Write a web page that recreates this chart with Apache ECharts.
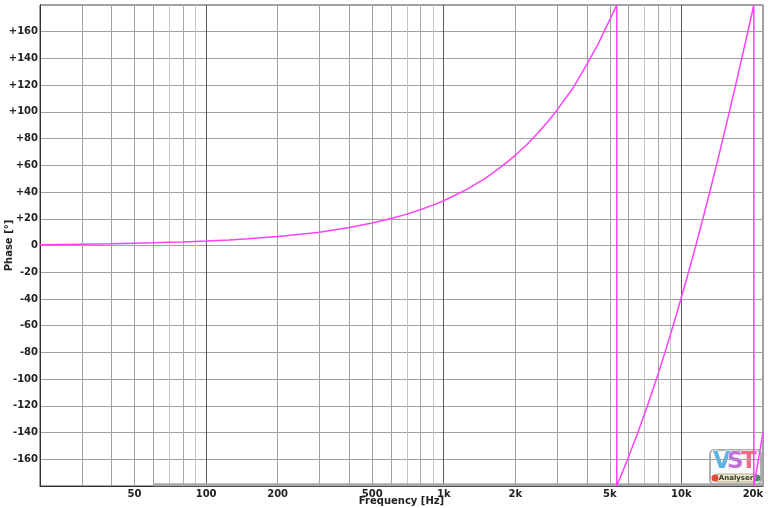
<!DOCTYPE html>
<html>
<head>
<meta charset="utf-8">
<script src="https://cdn.jsdelivr.net/npm/echarts@6/dist/echarts.min.js"></script>
<style>
  html, body { margin: 0; padding: 0; background: #fff; }
  #phase-chart { width: 768px; height: 508px; }
</style>
</head>
<body>
<div id="phase-chart"></div>
<script>
// phase response (Hz, degrees); a repeated frequency = wrap at +/-180
var freqHz = [20, 25, 30, 40, 50, 60, 70, 80, 100, 125, 150, 200, 250, 300, 400, 500, 600, 700, 800, 900,
    1000, 1250, 1500, 1750, 2000, 2250, 2500, 2750, 3000, 3250, 3500, 3750, 4000, 4250, 4500, 4750, 5000, 5200, 5345,
    5345, 5942, 6559, 7196, 7853, 8530, 9227, 9954, 10711, 11498, 12315, 13162, 14039, 14956, 15913, 16910, 17947, 19034, 20171,
    20171, 21100, 22050];
var phaseDeg = [0.5, 0.8, 1, 1.3, 1.7, 2, 2.4, 2.7, 3.3, 4.2, 5, 6.7, 8.4, 10, 13.4, 16.8, 20.2, 23.5, 27, 30.2,
    33.5, 42, 50.5, 59, 67.5, 76, 84.5, 93, 101.5, 110, 118, 127, 135.5, 144, 152, 161, 169, 175.5, 180,
    -180, -160, -140, -120, -100, -80, -60, -40, -20, 0, 20, 40, 60, 80, 100, 120, 140, 160, 180,
    -180, -160, -140];

// grey strip along the floor of the plot
var floorHz = [60, 22050];
var floorDeg = [-179, -179];

// frequency grid lines and labelled frequencies
var gridHz = [30, 40, 50, 60, 70, 80, 90, 100, 200, 300, 400, 500, 600, 700, 800, 900,
    1000, 2000, 3000, 4000, 5000, 6000, 7000, 8000, 9000, 10000, 20000];
var labelHz = [50, 100, 200, 500, 1000, 2000, 5000, 10000, 20000];

var pairs = function (xs, ys) {
    var res = [];
    for (var i = 0; i < xs.length; i++) {
        res.push([xs[i], ys[i]]);
    }
    return res;
};

var chart = echarts.init(document.getElementById('phase-chart'));

var labelFont = {
    fontFamily: 'DejaVu Sans',
    fontWeight: 'bold',
    fontSize: 10,
    color: '#222'
};

var option = {
    backgroundColor: '#fff',
    animation: false,
    grid: {
        left: 40,
        right: 5,
        top: 5,
        bottom: 22,
        containLabel: false,
        outerBoundsMode: 'none',
        show: true,
        borderColor: '#444',
        borderWidth: 1
    },
    xAxis: {
        type: 'log',
        min: 20,
        max: 22050,
        name: 'Frequency [Hz]',
        nameLocation: 'middle',
        nameGap: 10,
        nameMoveOverlap: false,
        nameTextStyle: labelFont,
        axisLine: { onZero: false, lineStyle: { color: '#333' } },
        axisTick: { show: false, customValues: gridHz },
        axisLabel: {
            customValues: labelHz,
            margin: 3,
            fontFamily: 'DejaVu Sans',
            fontWeight: 'bold',
            fontSize: 10,
            color: '#222',
            formatter: function (v) {
                return v >= 1000 ? (v / 1000) + 'k' : '' + v;
            }
        },
        splitLine: {
            show: true,
            lineStyle: {
                color: ['#a0a0a0', '#a0a0a0', '#a0a0a0', '#a0a0a0', '#c4c4c4',
                        '#a8a8a8', '#c4c4c4', '#5a5a5a', '#a0a0a0']
            }
        }
    },
    yAxis: {
        type: 'value',
        min: -180,
        max: 180,
        interval: 20,
        name: 'Phase [°]',
        nameLocation: 'middle',
        nameGap: 26,
        nameMoveOverlap: false,
        nameTextStyle: labelFont,
        axisLine: { show: true, lineStyle: { color: '#333' } },
        axisTick: { show: false },
        axisLabel: {
            margin: 2,
            fontFamily: 'DejaVu Sans',
            fontWeight: 'bold',
            fontSize: 10,
            color: '#222',
            formatter: function (v) {
                if (v === 180 || v === -180) return '';
                return v > 0 ? '+' + v : '' + v;
            }
        },
        splitLine: { show: true, lineStyle: { color: '#a0a0a0' } }
    },
    series: [
        {
            name: 'floor',
            type: 'line',
            data: pairs(floorHz, floorDeg),
            showSymbol: false,
            silent: true,
            lineStyle: { color: '#a8a8a8', width: 3 }
        },
        {
            name: 'phase',
            type: 'line',
            data: pairs(freqHz, phaseDeg),
            showSymbol: false,
            lineStyle: { color: '#ff40ff', width: 1.5 }
        }
    ],
    graphic: [
        {
            type: 'group',
            x: 710,
            y: 450,
            children: [
                {
                    type: 'rect',
                    shape: { x: 0, y: 0, width: 51, height: 34, r: 4 },
                    style: { fill: 'rgba(250,250,250,0.92)', stroke: '#b0b0b0', lineWidth: 2 }
                },
                {
                    type: 'text',
                    x: 3, y: 1,
                    style: { text: 'V', font: 'bold 23px "DejaVu Sans"', fill: '#5ab4e6', stroke: '#fff', lineWidth: 1 }
                },
                {
                    type: 'text',
                    x: 17, y: 1,
                    style: { text: 'S', font: 'bold 23px "DejaVu Sans"', fill: '#c070d8', stroke: '#fff', lineWidth: 1 }
                },
                {
                    type: 'text',
                    x: 31, y: 1,
                    style: { text: 'T', font: 'bold 23px "DejaVu Sans"', fill: '#f06a8a', stroke: '#fff', lineWidth: 1 }
                },
                {
                    type: 'rect',
                    shape: { x: 4, y: 24, width: 43, height: 8, r: 4 },
                    style: { fill: '#f2ecc2', stroke: '#999', lineWidth: 0.8 }
                },
                {
                    type: 'circle',
                    shape: { cx: 5, cy: 28, r: 3.5 },
                    style: { fill: '#e04a3a' }
                },
                {
                    type: 'circle',
                    shape: { cx: 47, cy: 28, r: 3.5 },
                    style: { fill: '#3a9a5a' }
                },
                {
                    type: 'text',
                    x: 26, y: 24.5,
                    style: { text: 'Analyser', align: 'center', font: 'bold 7px "DejaVu Sans"', fill: '#333' }
                }
            ]
        }
    ]
};

chart.setOption(option);
</script>
</body>
</html>
